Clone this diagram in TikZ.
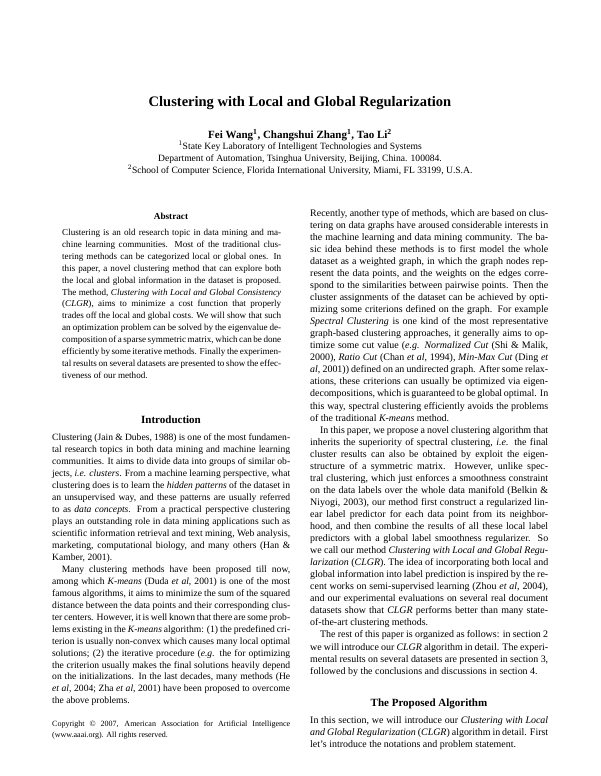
\documentclass[tikz,border=0pt]{standalone}
\usepackage{fontspec}
\setmainfont{Liberation Serif}
\newcommand{\bodyfont}{\fontsize{9.6}{11.95}\selectfont}
\newcommand{\rbodyfont}{\fontsize{9.95}{12.05}\selectfont}
\newcommand{\absfont}{\fontsize{9.1}{11.9}\selectfont}
\tikzset{
  col/.style={anchor=north west,inner sep=0pt,text width=238pt,align=justify,font=\bodyfont},
  rcol/.style={col,font=\rbodyfont},
  abs/.style={anchor=north west,inner sep=0pt,text width=219pt,align=justify,font=\absfont},
  head/.style={inner sep=0pt,font=\fontsize{11}{13}\selectfont\bfseries},
  ctr/.style={inner sep=0pt,align=center}
}
\begin{document}
\begin{tikzpicture}[x=1pt,y=-1pt]
\useasboundingbox[fill=white] (0,0) rectangle (600,776);
\node[ctr,font=\fontsize{14.5}{17}\selectfont\bfseries] (title) at (300,103) {Clustering with Local and Global Regularization};
\node[ctr,font=\fontsize{11}{13}\selectfont\bfseries] (auth) at (300,135) {Fei Wang$^{\mathbf 1}$, Changshui Zhang$^{\mathbf 1}$, Tao Li$^{\mathbf 2}$};
\node[ctr,font=\fontsize{9.6}{12}\selectfont,anchor=north] (aff) at (300,141) {$^1$State Key Laboratory of Intelligent Technologies and Systems\\Department of Automation, Tsinghua University, Beijing, China. 100084.\\$^2$School of Computer Science, Florida International University, Miami, FL 33199, U.S.A.};
\node[ctr,font=\fontsize{9.2}{11}\selectfont\bfseries] (abh) at (171,216) {Abstract};
\node[abs] (abst) at (62,229) {Clustering is an old research topic in data mining and machine learning communities. Most of the traditional clustering methods can be categorized local or global ones. In this paper, a novel clustering method that can explore both the local and global information in the dataset is proposed. The method, \emph{Clustering with Local and Global Consistency} (\emph{CLGR}), aims to minimize a cost function that properly trades off the local and global costs. We will show that such an optimization problem can be solved by the eigenvalue decomposition of a sparse symmetric matrix, which can be done efficiently by some iterative methods. Finally the experimental results on several datasets are presented to show the effectiveness of our method.};
\node[head] (intro) at (171,420) {Introduction};
\node[col] (left) at (52,434) {\setlength{\parindent}{0pt}Clustering (Jain \& Dubes, 1988) is one of the most fundamental research topics in both data mining and machine learning communities. It aims to divide data into groups of similar objects, \emph{i.e. clusters}. From a machine learning perspective, what clustering does is to learn the \emph{hidden patterns} of the dataset in an unsupervised way, and these patterns are usually referred to as \emph{data concepts}. From a practical perspective clustering plays an outstanding role in data mining applications such as scientific information retrieval and text mining, Web analysis, marketing, computational biology, and many others (Han \& Kamber, 2001).\par
\setlength{\parindent}{1em}Many clustering methods have been proposed till now, among which \emph{K-means} (Duda \emph{et al}, 2001) is one of the most famous algorithms, it aims to minimize the sum of the squared distance between the data points and their corresponding cluster centers. However, it is well known that there are some problems existing in the \emph{K-means} algorithm: (1) the predefined criterion is usually non-convex which causes many local optimal solutions; (2) the iterative procedure (\emph{e.g.} the for optimizing the criterion usually makes the final solutions heavily depend on the initializations. In the last decades, many methods (He \emph{et al}, 2004; Zha \emph{et al}, 2001) have been proposed to overcome the above problems.};
\node[abs,text width=238pt,font=\fontsize{8}{11}\selectfont] (copy) at (52,721) {Copyright \copyright{} 2007, American Association for Artificial Intelligence (www.aaai.org). All rights reserved.};
\node[rcol] (right) at (310,209) {\setlength{\parindent}{1em}Recently, another type of methods, which are based on clustering on data graphs have aroused considerable interests in the machine learning and data mining community. The basic idea behind these methods is to first model the whole dataset as a weighted graph, in which the graph nodes represent the data points, and the weights on the edges correspond to the similarities between pairwise points. Then the cluster assignments of the dataset can be achieved by optimizing some criterions defined on the graph. For example \emph{Spectral Clustering} is one kind of the most representative graph-based clustering approaches, it generally aims to optimize some cut value (\emph{e.g. Normalized Cut} (Shi \& Malik, 2000), \emph{Ratio Cut} (Chan \emph{et al}, 1994), \emph{Min-Max Cut} (Ding \emph{et al}, 2001)) defined on an undirected graph. After some relaxations, these criterions can usually be optimized via eigen-decompositions, which is guaranteed to be global optimal. In this way, spectral clustering efficiently avoids the problems of the traditional \emph{K-means} method.\par
In this paper, we propose a novel clustering algorithm that inherits the superiority of spectral clustering, \emph{i.e.} the final cluster results can also be obtained by exploit the eigen-structure of a symmetric matrix. However, unlike spectral clustering, which just enforces a smoothness constraint on the data labels over the whole data manifold (Belkin \& Niyogi, 2003), our method first construct a regularized linear label predictor for each data point from its neighborhood, and then combine the results of all these local label predictors with a global label smoothness regularizer. So we call our method \emph{Clustering with Local and Global Regularization} (\emph{CLGR}). The idea of incorporating both local and global information into label prediction is inspired by the recent works on semi-supervised learning (Zhou \emph{et al}, 2004), and our experimental evaluations on several real document datasets show that \emph{CLGR} performs better than many state-of-the-art clustering methods.\par
The rest of this paper is organized as follows: in section 2 we will introduce our \emph{CLGR} algorithm in detail. The experimental results on several datasets are presented in section 3, followed by the conclusions and discussions in section 4.};
\node[head] (alg) at (429,704) {The Proposed Algorithm};
\node[rcol] (right2) at (310,716) {In this section, we will introduce our \emph{Clustering with Local and Global Regularization} (\emph{CLGR}) algorithm in detail. First let's introduce the notations and problem statement.};
\end{tikzpicture}
\end{document}
